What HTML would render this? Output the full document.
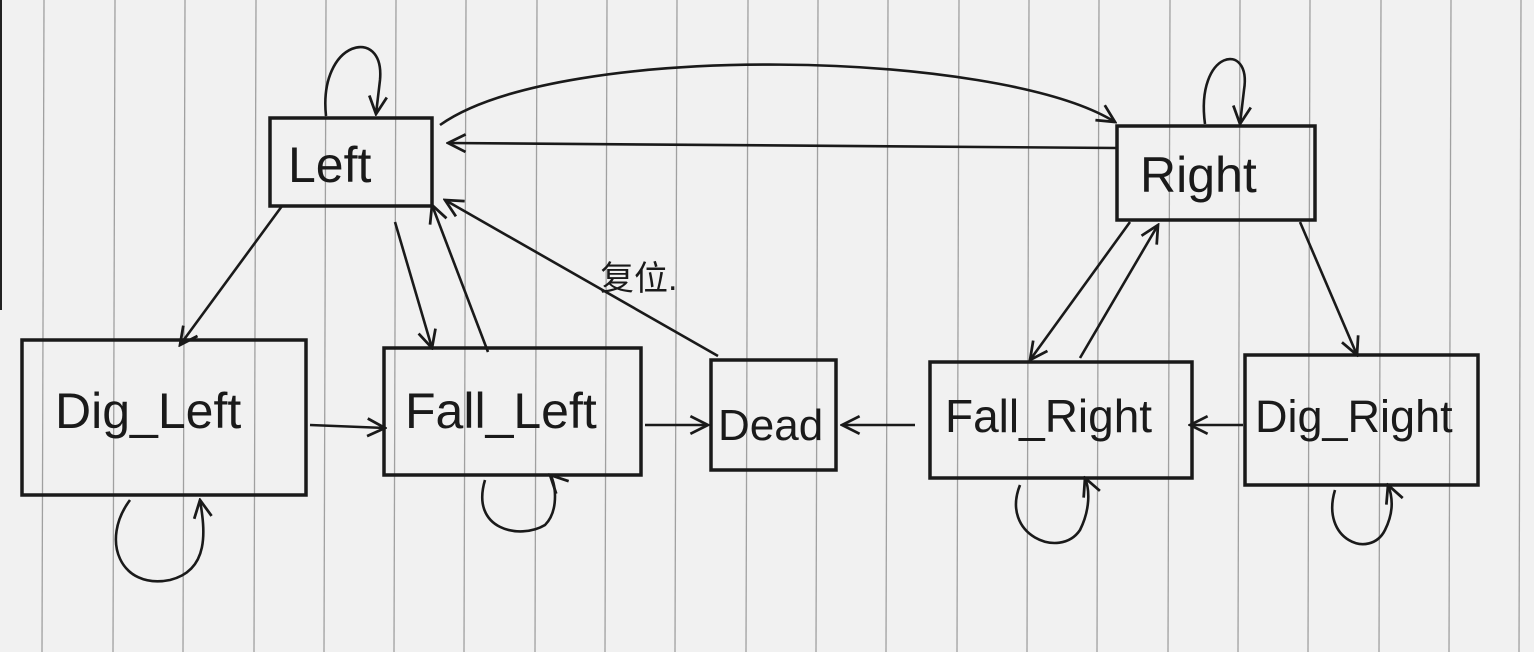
<!DOCTYPE html>
<html><head><meta charset="utf-8"><style>
html,body{margin:0;padding:0;background:#f0f0f0;}
svg{display:block}
text{font-family:"Liberation Sans","Noto Sans CJK SC",sans-serif;fill:#1a1a1a}
</style></head><body>
<svg width="1534" height="652" viewBox="0 0 1534 652" xmlns="http://www.w3.org/2000/svg">
<defs>
<marker id="a" viewBox="0 0 20 20" refX="18" refY="10" markerWidth="22" markerHeight="22" markerUnits="userSpaceOnUse" orient="auto">
<path d="M2,2 L18,10 L2,18" fill="none" stroke="#1a1a1a" stroke-width="2.5"/>
</marker>
</defs>
<rect width="1534" height="652" fill="#f1f1f1"/>
<g stroke="#a0a0a0" stroke-width="1.3">
<line x1="44" y1="0" x2="42" y2="652"/><line x1="115" y1="0" x2="113" y2="652"/><line x1="185" y1="0" x2="183" y2="652"/><line x1="256" y1="0" x2="254" y2="652"/><line x1="326" y1="0" x2="324" y2="652"/><line x1="396" y1="0" x2="394" y2="652"/><line x1="466" y1="0" x2="464" y2="652"/><line x1="537" y1="0" x2="535" y2="652"/><line x1="607" y1="0" x2="605" y2="652"/><line x1="677" y1="0" x2="675" y2="652"/><line x1="748" y1="0" x2="746" y2="652"/><line x1="818" y1="0" x2="816" y2="652"/><line x1="888" y1="0" x2="886" y2="652"/><line x1="959" y1="0" x2="957" y2="652"/><line x1="1029" y1="0" x2="1027" y2="652"/><line x1="1099" y1="0" x2="1097" y2="652"/><line x1="1170" y1="0" x2="1168" y2="652"/><line x1="1240" y1="0" x2="1238" y2="652"/><line x1="1310" y1="0" x2="1308" y2="652"/><line x1="1381" y1="0" x2="1379" y2="652"/><line x1="1451" y1="0" x2="1449" y2="652"/><line x1="1521" y1="0" x2="1519" y2="652"/>
</g>
<rect x="0" y="0" width="2" height="310" fill="#222"/>
<g fill="none" stroke="#1a1a1a" stroke-width="3.5">
<rect x="270" y="118" width="162" height="88"/>
<rect x="1117" y="126" width="198" height="94"/>
<rect x="22" y="340" width="284" height="155"/>
<rect x="384" y="348" width="257" height="127"/>
<rect x="711" y="360" width="125" height="110"/>
<rect x="930" y="362" width="262" height="116"/>
<rect x="1245" y="355" width="233" height="130"/>
</g>
<g font-size="50">
<text x="288" y="182">Left</text>
<text x="1140" y="192">Right</text>
<text x="55" y="428">Dig_Left</text>
<text x="405" y="428">Fall_Left</text>
<text x="718" y="440" font-size="44">Dead</text>
<text x="945" y="432" font-size="46">Fall_Right</text>
<text x="1255" y="432" font-size="45">Dig_Right</text>
<text x="600" y="290" font-size="34">复位.</text>
</g>
<g fill="none" stroke="#1a1a1a" stroke-width="2.6" marker-end="url(#a)">
<path d="M326,116 C318,40 385,25 380,80 L376,114"/>
<path d="M1205,124 C1195,50 1252,40 1244,90 L1240,124"/>
<path d="M130,500 C100,540 120,590 170,580 C210,570 205,530 200,500"/>
<path d="M485,480 C470,530 520,540 545,525 C560,510 555,480 550,475"/>
<path d="M1020,485 C1000,535 1060,560 1080,530 C1090,510 1090,490 1085,478"/>
<path d="M1335,490 C1320,540 1370,560 1385,530 C1395,510 1392,495 1388,485"/>
<path d="M440,125 C560,40 1000,50 1115,122"/>
<path d="M1117,148 L448,143"/>
<path d="M282,206 L180,345"/>
<path d="M395,222 L432,348"/>
<path d="M488,352 L432,205"/>
<path d="M718,356 L445,200"/>
<path d="M1130,222 L1030,360"/>
<path d="M1080,358 L1158,225"/>
<path d="M1300,222 L1357,355"/>
<path d="M310,425 L385,428"/>
<path d="M645,425 L708,425"/>
<path d="M915,425 L842,425"/>
<path d="M1243,425 L1190,425"/>
</g>
</svg>
</body></html>
